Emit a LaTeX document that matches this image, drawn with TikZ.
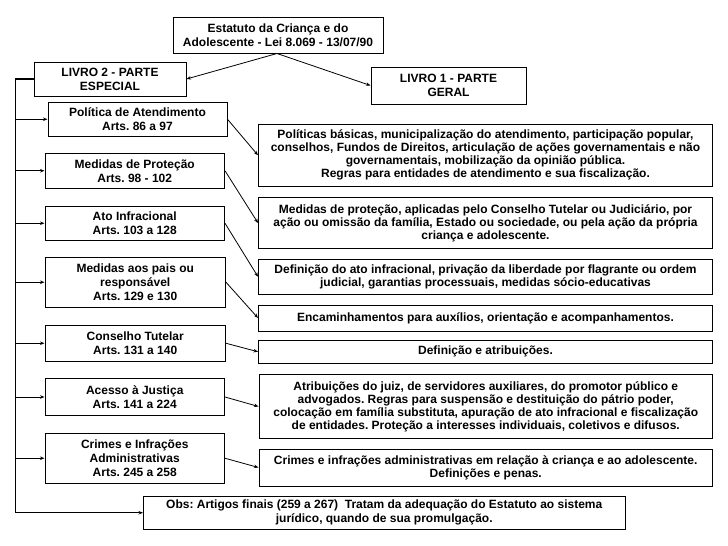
\documentclass[tikz,border=0pt]{standalone}
\usepackage{fontspec}
\setmainfont{Liberation Sans}
\usetikzlibrary{arrows.meta}
\frenchspacing
\begin{document}
\frenchspacing
\begin{tikzpicture}[x=1pt,y=-1pt,
  box/.style={draw=black,line width=1pt,fill=white,inner sep=0pt,align=center,
    font=\frenchspacing\bfseries\fontsize{12}{14}\selectfont},
  lbox/.style={box},
  rbox/.style={box,font=\frenchspacing\bfseries\fontsize{12}{13}\selectfont,minimum width=454pt},
  conn/.style={draw=black,line width=0.8pt,-{Stealth[length=4.5pt,width=3.5pt]}},
  trunk/.style={draw=black,line width=1.8pt}]
\useasboundingbox[fill=white] (0,0) rectangle (728,546);

\node[box,minimum width=210pt,minimum height=36.5pt] (top) at (278,35.25)
  {Estatuto da Criança e do\\Adolescente - Lei 8.069 - 13/07/90};
\node[box,minimum width=152pt,minimum height=34pt] (livro2) at (110,79)
  {LIVRO 2 - PARTE\\ESPECIAL};
\node[box,minimum width=155pt,minimum height=37pt] (livro1) at (448.5,85.5)
  {LIVRO 1 - PARTE\\GERAL};

\node[lbox,minimum width=179pt,minimum height=34.5pt] (pol) at (137.5,119.25)
  {Política de Atendimento\\Arts. 86 a 97};
\node[lbox,minimum width=179.5pt,minimum height=35.5pt] (medprot) at (134.75,170.75)
  {Medidas de Proteção\\Arts. 98 - 102};
\node[lbox,minimum width=179.5pt,minimum height=34.5pt] (ato) at (134.75,223.25)
  {Ato Infracional\\Arts. 103 a 128};
\node[lbox,minimum width=180.5pt,minimum height=49.5pt] (medpais) at (135.25,282.25)
  {Medidas aos pais ou\\responsável\\Arts. 129 e 130};
\node[lbox,minimum width=180.5pt,minimum height=36.5pt] (conselho) at (135.25,343.25)
  {Conselho Tutelar\\Arts. 131 a 140};
\node[lbox,minimum width=179.5pt,minimum height=37pt] (acesso) at (134.75,397)
  {Acesso à Justiça\\Arts. 141 a 224};
\node[lbox,minimum width=179.5pt,minimum height=50.5pt] (crimes) at (134.75,458.25)
  {Crimes e Infrações\\Administrativas\\Arts. 245 a 258};
\node[box,minimum width=481.5pt,minimum height=33.5pt] (obs) at (384.25,512.75)
  {Obs: Artigos finais (259 a 267) \ Tratam da adequação do Estatuto ao sistema\\jurídico, quando de sua promulgação.};

\node[rbox,minimum height=62.5pt] (ra) at (485.5,155.25)
  {Políticas básicas, municipalização do atendimento, participação popular,\\conselhos, Fundos de Direitos, articulação de ações governamentais e não\\governamentais, mobilização da opinião pública.\\Regras para entidades de atendimento e sua fiscalização.};
\node[rbox,minimum height=51pt] (rb) at (485.5,223)
  {Medidas de proteção, aplicadas pelo Conselho Tutelar ou Judiciário, por\\ação ou omissão da família, Estado ou sociedade, ou pela ação da própria\\criança e adolescente.};
\node[rbox,minimum height=35.5pt] (rc) at (485.5,276.75)
  {Definição do ato infracional, privação da liberdade por flagrante ou ordem\\judicial, garantias processuais, medidas sócio-educativas};
\node[rbox,minimum height=26pt] (rd) at (485.5,318)
  {Encaminhamentos para auxílios, orientação e acompanhamentos.};
\node[rbox,minimum height=23.5pt] (re) at (485.5,351.75)
  {Definição e atribuições.};
\node[rbox,minimum width=453.5pt,minimum height=64pt] (rf) at (485.75,406.5)
  {Atribuições do juiz, de servidores auxiliares, do promotor público e\\advogados. Regras para suspensão e destituição do pátrio poder,\\colocação em família substituta, apuração de ato infracional e fiscalização\\de entidades. Proteção a interesses individuais, coletivos e difusos.};
\node[rbox,minimum width=453.5pt,minimum height=37pt] (rg) at (485.75,467.5)
  {Crimes e infrações administrativas em relação à criança e ao adolescente.\\Definições e penas.};

% top arrows
\coordinate (topfoot) at (277,53.5);
\draw[conn] (topfoot) -- (livro2.east);
\draw[conn] (topfoot) -- (livro1.west);

% trunk
\coordinate (tx) at (15.5,79);
\coordinate (tbot) at (15.5,512.75);
\draw[trunk] (livro2.west) -- (tx) -- (tbot);
\foreach \n in {pol,medprot,ato,medpais,conselho,acesso,crimes,obs}
  \draw[conn] (tx |- \n.west) -- (\n.west);

% diagonal arrows
\draw[conn] (pol.east) -- (ra.west);
\draw[conn] (medprot.east) -- (rb.west);
\draw[conn] (ato.east) -- (rc.west);
\draw[conn] (medpais.east) -- (rd.west);
\draw[conn] (conselho.east) -- (re.west);
\draw[conn] (acesso.east) -- (rf.west);
\draw[conn] (crimes.east) -- (rg.west);
\end{tikzpicture}
\end{document}
